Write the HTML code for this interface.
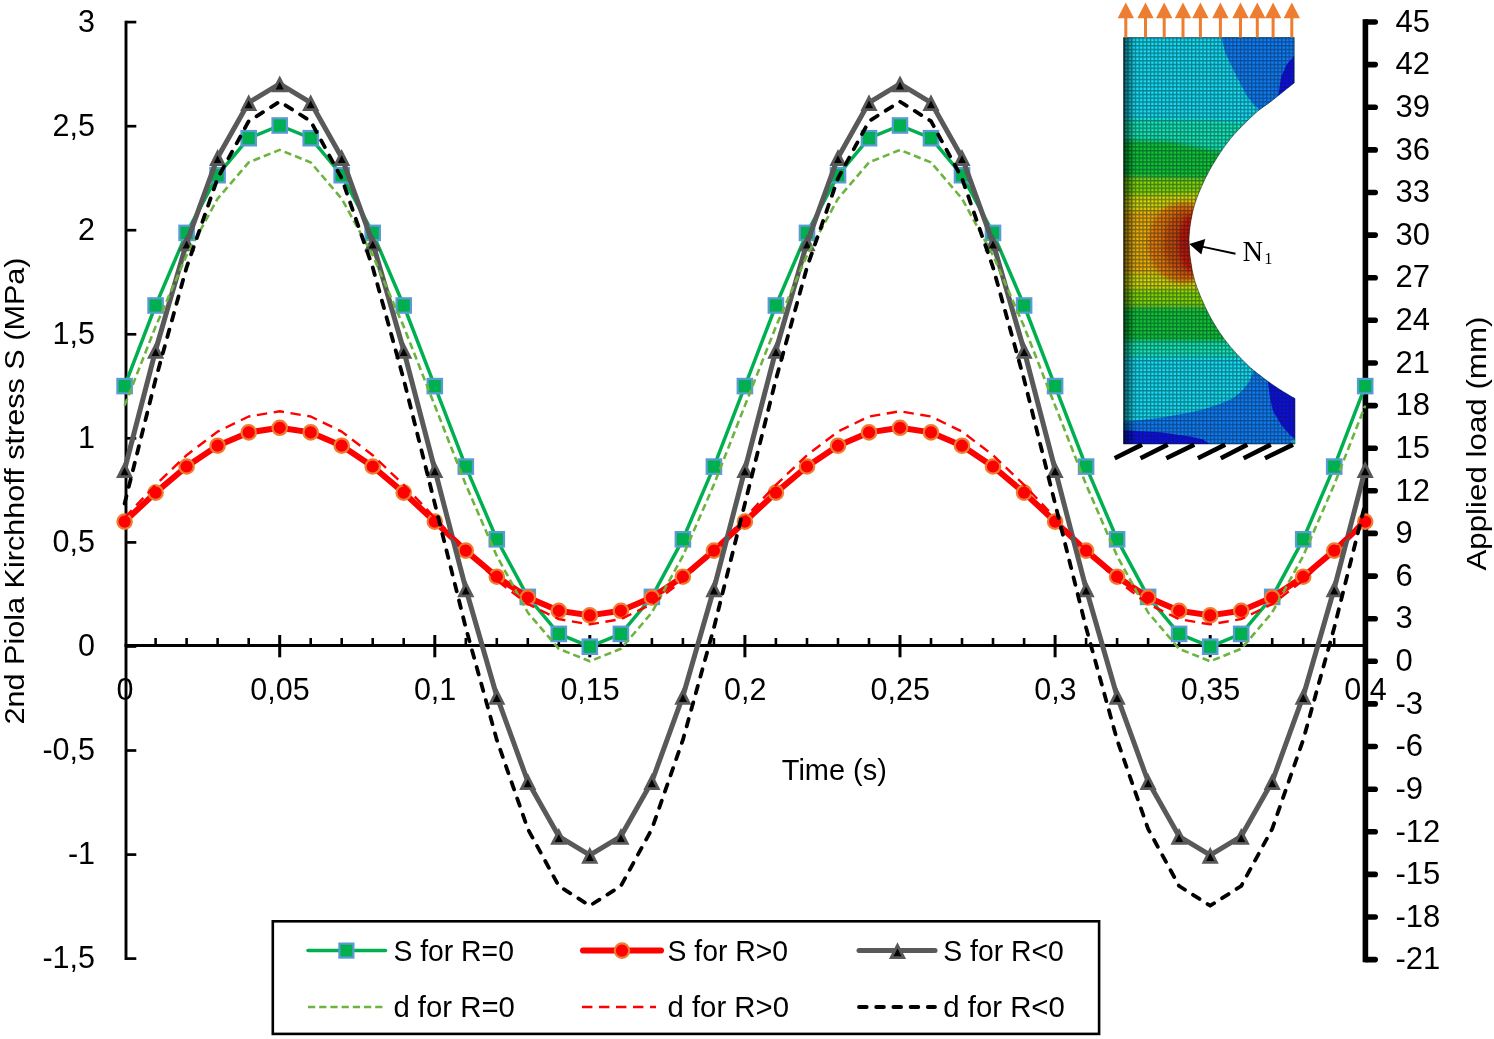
<!DOCTYPE html>
<html lang="en"><head><meta charset="utf-8"><title>Stress and applied load versus time</title>
<style>html,body{margin:0;padding:0;background:#fff}svg{display:block}text{font-family:"Liberation Sans",sans-serif;fill:#000}.ser{font-family:"Liberation Serif",serif}</style></head><body>
<svg width="1494" height="1039" viewBox="0 0 1494 1039">
<rect width="1494" height="1039" fill="#fff"/>
<defs>
<clipPath id="spec"><path d="M1123.6 37.5L1294.2 37.5L1294.2 83.0C1292.5 84.3 1287.9 87.9 1284.0 91.0C1280.1 94.1 1275.0 98.3 1270.6 101.7C1266.1 105.1 1261.8 107.7 1257.3 111.5C1252.8 115.3 1248.4 119.8 1243.9 124.3C1239.4 128.8 1235.0 133.2 1230.5 138.7C1226.0 144.2 1221.1 151.2 1217.1 157.5C1213.1 163.8 1209.8 169.5 1206.4 176.2C1203.1 182.9 1199.5 190.9 1197.0 197.6C1194.5 204.3 1193.0 210.2 1191.7 216.4C1190.4 222.6 1189.6 229.7 1189.2 235.0C1188.8 240.3 1189.2 244.2 1189.4 248.0C1189.6 251.8 1189.7 253.7 1190.3 258.0C1190.9 262.4 1191.9 269.2 1193.0 274.1C1194.1 279.0 1195.2 282.6 1197.0 287.5C1198.8 292.4 1201.2 298.1 1203.7 303.5C1206.2 308.9 1208.4 313.8 1211.7 319.6C1215.0 325.4 1219.5 332.6 1223.8 338.4C1228.0 344.2 1232.7 349.5 1237.2 354.4C1241.7 359.3 1246.1 363.8 1250.6 367.8C1255.1 371.8 1259.3 375.0 1264.0 378.5C1268.7 382.0 1273.8 385.6 1279.0 389.0C1284.2 392.4 1292.3 397.0 1295.0 398.6L1295 444.0L1123.6 444.0Z"/></clipPath>
<radialGradient id="hot" gradientUnits="userSpaceOnUse" cx="1192" cy="243" r="46">
<stop offset="0" stop-color="#fa1400"/><stop offset="0.3" stop-color="#f82800"/><stop offset="0.45" stop-color="#f46400"/><stop offset="0.78" stop-color="#f08400"/><stop offset="1" stop-color="#f5af00" stop-opacity="0"/></radialGradient>
<linearGradient id="ledge" gradientUnits="userSpaceOnUse" x1="1123" y1="0" x2="1136" y2="0"><stop offset="0" stop-color="#000" stop-opacity="0.85"/><stop offset="0.2" stop-color="#000" stop-opacity="0.45"/><stop offset="0.6" stop-color="#000" stop-opacity="0.22"/><stop offset="1" stop-color="#000" stop-opacity="0"/></linearGradient>
<pattern id="mesh" x="1123.6" y="37.5" width="3.75" height="3.75" patternUnits="userSpaceOnUse"><path d="M0 0.65H3.75M0.65 0V3.75" stroke="#001828" stroke-width="1.3" stroke-opacity="0.5" fill="none"/></pattern>
<filter id="soft" x="-5%" y="-5%" width="110%" height="110%"><feGaussianBlur stdDeviation="0.7"/></filter>
<filter id="bblur" x="-10%" y="-10%" width="120%" height="120%"><feGaussianBlur stdDeviation="2.2"/></filter>
<radialGradient id="dk"><stop offset="0" stop-color="#300" stop-opacity="0.28"/><stop offset="0.6" stop-color="#300" stop-opacity="0.16"/><stop offset="1" stop-color="#300" stop-opacity="0"/></radialGradient>
</defs>
<g filter="url(#soft)"><g clip-path="url(#spec)">
<g filter="url(#bblur)">
<rect x="1090" y="0" width="240" height="480" fill="#12e2f6"/>
<path d="M1090.0 119.0 L1200.0 119.5 L1330.0 128.0 L1330 480L1090 480Z" fill="#14ecb4"/>
<path d="M1090.0 138.0 L1170.0 141.0 L1219.0 150.6 L1330.0 165.0 L1330 480L1090 480Z" fill="#0acc32"/>
<path d="M1090.0 176.6 L1202.0 179.5 L1330.0 183.0 L1330 480L1090 480Z" fill="#86dc00"/>
<path d="M1090.0 197.0 L1196.0 194.0 L1330.0 189.0 L1330 480L1090 480Z" fill="#dcdc00"/>
<path d="M1090.0 213.5 L1160.0 209.0 L1180.0 203.0 L1330.0 190.0 L1330 480L1090 480Z" fill="#f8b200"/>
<path d="M1090.0 273.0 L1330.0 274.0 L1330 480L1090 480Z" fill="#dcdc00"/>
<path d="M1090.0 289.0 L1330.0 290.0 L1330 480L1090 480Z" fill="#86dc00"/>
<path d="M1090.0 306.0 L1330.0 307.6 L1330 480L1090 480Z" fill="#0acc32"/>
<path d="M1090.0 341.0 L1330.0 342.4 L1330 480L1090 480Z" fill="#14ecb4"/>
<path d="M1090.0 357.0 L1330.0 357.0 L1330 480L1090 480Z" fill="#12e2f6"/>
</g>
<g filter="url(#soft)">
<path d="M1220 30L1225 52L1231.5 66L1239 81L1247 96L1255 106L1262 112L1300 112L1300 30Z" fill="#0a80fc"/>
<path d="M1296 54L1287 64L1281 77L1278.5 95L1300 95L1300 54Z" fill="#0a0af4"/>
<path d="M1118 422.5L1159 418L1185 413.5L1203 409.5L1220 404L1232.5 398.5L1242 391L1249 382L1254 370L1300 370L1300 450L1118 450Z" fill="#0a80fc"/>
<path d="M1118 430L1160 432.3L1190 436.5L1203 439.5L1211 445L1118 445Z" fill="#0a0af4"/>
<path d="M1268 382L1270 398L1273 411L1281 424.5L1290 435L1296.5 440L1300 440L1300 382Z" fill="#0a0af4"/>
<circle cx="1294.5" cy="442.8" r="3.2" fill="#28e6f0"/>
</g>
<g filter="url(#bblur)"><ellipse cx="1184" cy="243" rx="36" ry="40" fill="#f27c00"/><ellipse cx="1188" cy="243" rx="24" ry="34" fill="#f45a00"/><ellipse cx="1191" cy="243" rx="13" ry="29" fill="#fa1400"/></g>
<ellipse cx="1186" cy="243" rx="30" ry="40" fill="url(#dk)"/>
<rect x="1120" y="34" width="180" height="414" fill="url(#mesh)"/>
<rect x="1123" y="34" width="14" height="414" fill="url(#ledge)"/>
</g>
<path d="M1123.6 37.5L1294.2 37.5L1294.2 83.0C1292.5 84.3 1287.9 87.9 1284.0 91.0C1280.1 94.1 1275.0 98.3 1270.6 101.7C1266.1 105.1 1261.8 107.7 1257.3 111.5C1252.8 115.3 1248.4 119.8 1243.9 124.3C1239.4 128.8 1235.0 133.2 1230.5 138.7C1226.0 144.2 1221.1 151.2 1217.1 157.5C1213.1 163.8 1209.8 169.5 1206.4 176.2C1203.1 182.9 1199.5 190.9 1197.0 197.6C1194.5 204.3 1193.0 210.2 1191.7 216.4C1190.4 222.6 1189.6 229.7 1189.2 235.0C1188.8 240.3 1189.2 244.2 1189.4 248.0C1189.6 251.8 1189.7 253.7 1190.3 258.0C1190.9 262.4 1191.9 269.2 1193.0 274.1C1194.1 279.0 1195.2 282.6 1197.0 287.5C1198.8 292.4 1201.2 298.1 1203.7 303.5C1206.2 308.9 1208.4 313.8 1211.7 319.6C1215.0 325.4 1219.5 332.6 1223.8 338.4C1228.0 344.2 1232.7 349.5 1237.2 354.4C1241.7 359.3 1246.1 363.8 1250.6 367.8C1255.1 371.8 1259.3 375.0 1264.0 378.5C1268.7 382.0 1273.8 385.6 1279.0 389.0C1284.2 392.4 1292.3 397.0 1295.0 398.6L1295 444.0L1123.6 444.0Z" fill="none" stroke="#101820" stroke-opacity="0.5" stroke-width="1"/>
</g>
<g fill="#ed7d31" stroke="none">
<path d="M1125.8 2.6L1134.0 18.2L1127.3 18.2L1127.3 37.6L1124.3 37.6L1124.3 18.2L1117.6 18.2Z"/>
<path d="M1145.5 2.6L1153.7 18.2L1147.0 18.2L1147.0 37.6L1144.0 37.6L1144.0 18.2L1137.3 18.2Z"/>
<path d="M1164.2 2.6L1172.4 18.2L1165.7 18.2L1165.7 37.6L1162.7 37.6L1162.7 18.2L1156.0 18.2Z"/>
<path d="M1183.0 2.6L1191.2 18.2L1184.5 18.2L1184.5 37.6L1181.5 37.6L1181.5 18.2L1174.8 18.2Z"/>
<path d="M1200.4 2.6L1208.6 18.2L1201.9 18.2L1201.9 37.6L1198.9 37.6L1198.9 18.2L1192.2 18.2Z"/>
<path d="M1220.4 2.6L1228.6 18.2L1221.9 18.2L1221.9 37.6L1218.9 37.6L1218.9 18.2L1212.2 18.2Z"/>
<path d="M1240.5 2.6L1248.7 18.2L1242.0 18.2L1242.0 37.6L1239.0 37.6L1239.0 18.2L1232.3 18.2Z"/>
<path d="M1257.3 2.6L1265.5 18.2L1258.8 18.2L1258.8 37.6L1255.8 37.6L1255.8 18.2L1249.1 18.2Z"/>
<path d="M1273.1 2.6L1281.3 18.2L1274.6 18.2L1274.6 37.6L1271.6 37.6L1271.6 18.2L1264.9 18.2Z"/>
<path d="M1291.8 2.6L1300.0 18.2L1293.3 18.2L1293.3 37.6L1290.3 37.6L1290.3 18.2L1283.6 18.2Z"/>
</g>
<g stroke="#000" stroke-width="4.6" fill="none">
<line x1="1114.7" y1="458.2" x2="1142.0" y2="444.6"/>
<line x1="1140.5" y1="458.2" x2="1167.7" y2="444.6"/>
<line x1="1166.3" y1="458.2" x2="1194.3" y2="444.6"/>
<line x1="1197.9" y1="458.2" x2="1225.2" y2="444.6"/>
<line x1="1220.8" y1="458.2" x2="1247.3" y2="444.6"/>
<line x1="1243.6" y1="458.2" x2="1270.8" y2="444.6"/>
<line x1="1265.0" y1="458.2" x2="1293.0" y2="444.6"/>
</g>
<line x1="1202" y1="246.6" x2="1235.5" y2="253.8" stroke="#000" stroke-width="1.9"/>
<path d="M1189.3 244.1L1205.3 238.9L1201.3 254.6Z" fill="#000"/>
<text class="ser" x="1242.6" y="261.4" font-size="28.5">N</text>
<text class="ser" x="1264.3" y="263.8" font-size="16.5">1</text>
<g stroke="#000" fill="none">
<line x1="126" y1="20.7" x2="126" y2="960" stroke-width="2.9"/>
<line x1="124.5" y1="645.6" x2="1366" y2="645.6" stroke-width="3"/>
<line x1="126" y1="22.1" x2="136.3" y2="22.1" stroke-width="2.7"/>
<line x1="126" y1="126.2" x2="136.3" y2="126.2" stroke-width="2.7"/>
<line x1="126" y1="230.2" x2="136.3" y2="230.2" stroke-width="2.7"/>
<line x1="126" y1="334.3" x2="136.3" y2="334.3" stroke-width="2.7"/>
<line x1="126" y1="438.3" x2="136.3" y2="438.3" stroke-width="2.7"/>
<line x1="126" y1="542.4" x2="136.3" y2="542.4" stroke-width="2.7"/>
<line x1="126" y1="646.5" x2="136.3" y2="646.5" stroke-width="2.7"/>
<line x1="126" y1="750.5" x2="136.3" y2="750.5" stroke-width="2.7"/>
<line x1="126" y1="854.6" x2="136.3" y2="854.6" stroke-width="2.7"/>
<line x1="126" y1="958.6" x2="136.3" y2="958.6" stroke-width="2.7"/>
<line x1="155.6" y1="638" x2="155.6" y2="646" stroke-width="2.6"/>
<line x1="186.6" y1="638" x2="186.6" y2="646" stroke-width="2.6"/>
<line x1="217.6" y1="638" x2="217.6" y2="646" stroke-width="2.6"/>
<line x1="248.7" y1="638" x2="248.7" y2="646" stroke-width="2.6"/>
<line x1="279.7" y1="635" x2="279.7" y2="657.3" stroke-width="3"/>
<line x1="310.7" y1="638" x2="310.7" y2="646" stroke-width="2.6"/>
<line x1="341.7" y1="638" x2="341.7" y2="646" stroke-width="2.6"/>
<line x1="372.7" y1="638" x2="372.7" y2="646" stroke-width="2.6"/>
<line x1="403.7" y1="638" x2="403.7" y2="646" stroke-width="2.6"/>
<line x1="434.8" y1="635" x2="434.8" y2="657.3" stroke-width="3"/>
<line x1="465.8" y1="638" x2="465.8" y2="646" stroke-width="2.6"/>
<line x1="496.8" y1="638" x2="496.8" y2="646" stroke-width="2.6"/>
<line x1="527.8" y1="638" x2="527.8" y2="646" stroke-width="2.6"/>
<line x1="558.8" y1="638" x2="558.8" y2="646" stroke-width="2.6"/>
<line x1="589.8" y1="635" x2="589.8" y2="657.3" stroke-width="3"/>
<line x1="620.9" y1="638" x2="620.9" y2="646" stroke-width="2.6"/>
<line x1="651.9" y1="638" x2="651.9" y2="646" stroke-width="2.6"/>
<line x1="682.9" y1="638" x2="682.9" y2="646" stroke-width="2.6"/>
<line x1="713.9" y1="638" x2="713.9" y2="646" stroke-width="2.6"/>
<line x1="744.9" y1="635" x2="744.9" y2="657.3" stroke-width="3"/>
<line x1="775.9" y1="638" x2="775.9" y2="646" stroke-width="2.6"/>
<line x1="807.0" y1="638" x2="807.0" y2="646" stroke-width="2.6"/>
<line x1="838.0" y1="638" x2="838.0" y2="646" stroke-width="2.6"/>
<line x1="869.0" y1="638" x2="869.0" y2="646" stroke-width="2.6"/>
<line x1="900.0" y1="635" x2="900.0" y2="657.3" stroke-width="3"/>
<line x1="931.0" y1="638" x2="931.0" y2="646" stroke-width="2.6"/>
<line x1="962.0" y1="638" x2="962.0" y2="646" stroke-width="2.6"/>
<line x1="993.0" y1="638" x2="993.0" y2="646" stroke-width="2.6"/>
<line x1="1024.1" y1="638" x2="1024.1" y2="646" stroke-width="2.6"/>
<line x1="1055.1" y1="635" x2="1055.1" y2="657.3" stroke-width="3"/>
<line x1="1086.1" y1="638" x2="1086.1" y2="646" stroke-width="2.6"/>
<line x1="1117.1" y1="638" x2="1117.1" y2="646" stroke-width="2.6"/>
<line x1="1148.1" y1="638" x2="1148.1" y2="646" stroke-width="2.6"/>
<line x1="1179.1" y1="638" x2="1179.1" y2="646" stroke-width="2.6"/>
<line x1="1210.2" y1="635" x2="1210.2" y2="657.3" stroke-width="3"/>
<line x1="1241.2" y1="638" x2="1241.2" y2="646" stroke-width="2.6"/>
<line x1="1272.2" y1="638" x2="1272.2" y2="646" stroke-width="2.6"/>
<line x1="1303.2" y1="638" x2="1303.2" y2="646" stroke-width="2.6"/>
<line x1="1334.2" y1="638" x2="1334.2" y2="646" stroke-width="2.6"/>
<line x1="1365.4" y1="19.3" x2="1365.4" y2="962.2" stroke-width="5.6"/>
<line x1="1366" y1="22.0" x2="1375.2" y2="22.0" stroke-width="5.6" stroke-linecap="round"/>
<line x1="1366" y1="64.6" x2="1375.2" y2="64.6" stroke-width="5.6" stroke-linecap="round"/>
<line x1="1366" y1="107.2" x2="1375.2" y2="107.2" stroke-width="5.6" stroke-linecap="round"/>
<line x1="1366" y1="149.9" x2="1375.2" y2="149.9" stroke-width="5.6" stroke-linecap="round"/>
<line x1="1366" y1="192.5" x2="1375.2" y2="192.5" stroke-width="5.6" stroke-linecap="round"/>
<line x1="1366" y1="235.1" x2="1375.2" y2="235.1" stroke-width="5.6" stroke-linecap="round"/>
<line x1="1366" y1="277.7" x2="1375.2" y2="277.7" stroke-width="5.6" stroke-linecap="round"/>
<line x1="1366" y1="320.3" x2="1375.2" y2="320.3" stroke-width="5.6" stroke-linecap="round"/>
<line x1="1366" y1="363.0" x2="1375.2" y2="363.0" stroke-width="5.6" stroke-linecap="round"/>
<line x1="1366" y1="405.6" x2="1375.2" y2="405.6" stroke-width="5.6" stroke-linecap="round"/>
<line x1="1366" y1="448.2" x2="1375.2" y2="448.2" stroke-width="5.6" stroke-linecap="round"/>
<line x1="1366" y1="490.8" x2="1375.2" y2="490.8" stroke-width="5.6" stroke-linecap="round"/>
<line x1="1366" y1="533.4" x2="1375.2" y2="533.4" stroke-width="5.6" stroke-linecap="round"/>
<line x1="1366" y1="576.1" x2="1375.2" y2="576.1" stroke-width="5.6" stroke-linecap="round"/>
<line x1="1366" y1="618.7" x2="1375.2" y2="618.7" stroke-width="5.6" stroke-linecap="round"/>
<line x1="1366" y1="661.3" x2="1375.2" y2="661.3" stroke-width="5.6" stroke-linecap="round"/>
<line x1="1366" y1="703.9" x2="1375.2" y2="703.9" stroke-width="5.6" stroke-linecap="round"/>
<line x1="1366" y1="746.5" x2="1375.2" y2="746.5" stroke-width="5.6" stroke-linecap="round"/>
<line x1="1366" y1="789.2" x2="1375.2" y2="789.2" stroke-width="5.6" stroke-linecap="round"/>
<line x1="1366" y1="831.8" x2="1375.2" y2="831.8" stroke-width="5.6" stroke-linecap="round"/>
<line x1="1366" y1="874.4" x2="1375.2" y2="874.4" stroke-width="5.6" stroke-linecap="round"/>
<line x1="1366" y1="917.0" x2="1375.2" y2="917.0" stroke-width="5.6" stroke-linecap="round"/>
<line x1="1366" y1="959.6" x2="1375.2" y2="959.6" stroke-width="5.6" stroke-linecap="round"/>
</g>
<g font-size="30.5">
<text x="95" y="31.7" text-anchor="end">3</text>
<text x="95" y="135.8" text-anchor="end">2,5</text>
<text x="95" y="239.8" text-anchor="end">2</text>
<text x="95" y="343.9" text-anchor="end">1,5</text>
<text x="95" y="447.9" text-anchor="end">1</text>
<text x="95" y="552.0" text-anchor="end">0,5</text>
<text x="95" y="656.1" text-anchor="end">0</text>
<text x="95" y="760.1" text-anchor="end">-0,5</text>
<text x="95" y="864.2" text-anchor="end">-1</text>
<text x="95" y="968.2" text-anchor="end">-1,5</text>
<text x="124.9" y="700.4" text-anchor="middle">0</text>
<text x="280.0" y="700.4" text-anchor="middle">0,05</text>
<text x="435.1" y="700.4" text-anchor="middle">0,1</text>
<text x="590.1" y="700.4" text-anchor="middle">0,15</text>
<text x="745.2" y="700.4" text-anchor="middle">0,2</text>
<text x="900.3" y="700.4" text-anchor="middle">0,25</text>
<text x="1055.4" y="700.4" text-anchor="middle">0,3</text>
<text x="1210.5" y="700.4" text-anchor="middle">0,35</text>
<text x="1365.5" y="700.4" text-anchor="middle">0,4</text>
<text x="1395.4" y="31.7" font-size="31">45</text>
<text x="1395.4" y="74.3" font-size="31">42</text>
<text x="1395.4" y="116.9" font-size="31">39</text>
<text x="1395.4" y="159.6" font-size="31">36</text>
<text x="1395.4" y="202.2" font-size="31">33</text>
<text x="1395.4" y="244.8" font-size="31">30</text>
<text x="1395.4" y="287.4" font-size="31">27</text>
<text x="1395.4" y="330.0" font-size="31">24</text>
<text x="1395.4" y="372.7" font-size="31">21</text>
<text x="1395.4" y="415.3" font-size="31">18</text>
<text x="1395.4" y="457.9" font-size="31">15</text>
<text x="1395.4" y="500.5" font-size="31">12</text>
<text x="1395.4" y="543.1" font-size="31">9</text>
<text x="1395.4" y="585.8" font-size="31">6</text>
<text x="1395.4" y="628.4" font-size="31">3</text>
<text x="1395.4" y="671.0" font-size="31">0</text>
<text x="1395.4" y="713.6" font-size="31">-3</text>
<text x="1395.4" y="756.2" font-size="31">-6</text>
<text x="1395.4" y="798.9" font-size="31">-9</text>
<text x="1395.4" y="841.5" font-size="31">-12</text>
<text x="1395.4" y="884.1" font-size="31">-15</text>
<text x="1395.4" y="926.7" font-size="31">-18</text>
<text x="1395.4" y="969.3" font-size="31">-21</text>
</g>
<text x="834.3" y="779.8" font-size="30" text-anchor="middle" textLength="105" lengthAdjust="spacingAndGlyphs">Time (s)</text>
<text transform="translate(24,491) rotate(-90)" font-size="28" text-anchor="middle" textLength="467" lengthAdjust="spacingAndGlyphs">2nd Piola Kirchhoff stress S (MPa)</text>
<text transform="translate(1486.2,443.6) rotate(-90)" font-size="28.5" text-anchor="middle" textLength="254" lengthAdjust="spacingAndGlyphs">Applied load (mm)</text>
<g fill="none" stroke-linejoin="round">
<polyline points="124.6,386.1 155.6,305.5 186.6,232.9 217.6,175.2 248.7,138.2 279.7,125.5 310.7,138.2 341.7,175.2 372.7,232.9 403.7,305.5 434.8,386.1 465.8,466.6 496.8,539.3 527.8,596.9 558.8,633.9 589.8,646.7 620.9,633.9 651.9,596.9 682.9,539.3 713.9,466.6 744.9,386.1 775.9,305.5 807.0,232.9 838.0,175.2 869.0,138.2 900.0,125.5 931.0,138.2 962.0,175.2 993.0,232.9 1024.1,305.5 1055.1,386.1 1086.1,466.6 1117.1,539.3 1148.1,596.9 1179.1,633.9 1210.2,646.7 1241.2,633.9 1272.2,596.9 1303.2,539.3 1334.2,466.6 1365.2,386.1" stroke="#00b050" stroke-width="3.5"/>
</g>
<g fill="#00b050" stroke="#5b9bd5" stroke-width="2.2">
<rect x="117.4" y="378.9" width="14.4" height="14.4"/>
<rect x="148.4" y="298.3" width="14.4" height="14.4"/>
<rect x="179.4" y="225.7" width="14.4" height="14.4"/>
<rect x="210.4" y="168.0" width="14.4" height="14.4"/>
<rect x="241.5" y="131.0" width="14.4" height="14.4"/>
<rect x="272.5" y="118.3" width="14.4" height="14.4"/>
<rect x="303.5" y="131.0" width="14.4" height="14.4"/>
<rect x="334.5" y="168.0" width="14.4" height="14.4"/>
<rect x="365.5" y="225.7" width="14.4" height="14.4"/>
<rect x="396.5" y="298.3" width="14.4" height="14.4"/>
<rect x="427.6" y="378.9" width="14.4" height="14.4"/>
<rect x="458.6" y="459.4" width="14.4" height="14.4"/>
<rect x="489.6" y="532.1" width="14.4" height="14.4"/>
<rect x="520.6" y="589.7" width="14.4" height="14.4"/>
<rect x="551.6" y="626.7" width="14.4" height="14.4"/>
<rect x="582.6" y="639.5" width="14.4" height="14.4"/>
<rect x="613.7" y="626.7" width="14.4" height="14.4"/>
<rect x="644.7" y="589.7" width="14.4" height="14.4"/>
<rect x="675.7" y="532.1" width="14.4" height="14.4"/>
<rect x="706.7" y="459.4" width="14.4" height="14.4"/>
<rect x="737.7" y="378.9" width="14.4" height="14.4"/>
<rect x="768.7" y="298.3" width="14.4" height="14.4"/>
<rect x="799.8" y="225.7" width="14.4" height="14.4"/>
<rect x="830.8" y="168.0" width="14.4" height="14.4"/>
<rect x="861.8" y="131.0" width="14.4" height="14.4"/>
<rect x="892.8" y="118.3" width="14.4" height="14.4"/>
<rect x="923.8" y="131.0" width="14.4" height="14.4"/>
<rect x="954.8" y="168.0" width="14.4" height="14.4"/>
<rect x="985.8" y="225.7" width="14.4" height="14.4"/>
<rect x="1016.9" y="298.3" width="14.4" height="14.4"/>
<rect x="1047.9" y="378.9" width="14.4" height="14.4"/>
<rect x="1078.9" y="459.4" width="14.4" height="14.4"/>
<rect x="1109.9" y="532.1" width="14.4" height="14.4"/>
<rect x="1140.9" y="589.7" width="14.4" height="14.4"/>
<rect x="1171.9" y="626.7" width="14.4" height="14.4"/>
<rect x="1203.0" y="639.5" width="14.4" height="14.4"/>
<rect x="1234.0" y="626.7" width="14.4" height="14.4"/>
<rect x="1265.0" y="589.7" width="14.4" height="14.4"/>
<rect x="1296.0" y="532.1" width="14.4" height="14.4"/>
<rect x="1327.0" y="459.4" width="14.4" height="14.4"/>
<rect x="1358.0" y="378.9" width="14.4" height="14.4"/>
</g>
<polyline points="124.6,521.6 155.6,492.6 186.6,466.5 217.6,445.7 248.7,432.4 279.7,427.8 310.7,432.4 341.7,445.7 372.7,466.5 403.7,492.6 434.8,521.6 465.8,550.6 496.8,576.7 527.8,597.5 558.8,610.8 589.8,615.4 620.9,610.8 651.9,597.5 682.9,576.7 713.9,550.6 744.9,521.6 775.9,492.6 807.0,466.5 838.0,445.7 869.0,432.4 900.0,427.8 931.0,432.4 962.0,445.7 993.0,466.5 1024.1,492.6 1055.1,521.6 1086.1,550.6 1117.1,576.7 1148.1,597.5 1179.1,610.8 1210.2,615.4 1241.2,610.8 1272.2,597.5 1303.2,576.7 1334.2,550.6 1365.2,521.6" fill="none" stroke="#ff0000" stroke-width="6" stroke-linejoin="round"/>
<g fill="#ff0000" stroke="#ed7d31" stroke-width="2.2">
<circle cx="124.6" cy="521.6" r="7.2"/>
<circle cx="155.6" cy="492.6" r="7.2"/>
<circle cx="186.6" cy="466.5" r="7.2"/>
<circle cx="217.6" cy="445.7" r="7.2"/>
<circle cx="248.7" cy="432.4" r="7.2"/>
<circle cx="279.7" cy="427.8" r="7.2"/>
<circle cx="310.7" cy="432.4" r="7.2"/>
<circle cx="341.7" cy="445.7" r="7.2"/>
<circle cx="372.7" cy="466.5" r="7.2"/>
<circle cx="403.7" cy="492.6" r="7.2"/>
<circle cx="434.8" cy="521.6" r="7.2"/>
<circle cx="465.8" cy="550.6" r="7.2"/>
<circle cx="496.8" cy="576.7" r="7.2"/>
<circle cx="527.8" cy="597.5" r="7.2"/>
<circle cx="558.8" cy="610.8" r="7.2"/>
<circle cx="589.8" cy="615.4" r="7.2"/>
<circle cx="620.9" cy="610.8" r="7.2"/>
<circle cx="651.9" cy="597.5" r="7.2"/>
<circle cx="682.9" cy="576.7" r="7.2"/>
<circle cx="713.9" cy="550.6" r="7.2"/>
<circle cx="744.9" cy="521.6" r="7.2"/>
<circle cx="775.9" cy="492.6" r="7.2"/>
<circle cx="807.0" cy="466.5" r="7.2"/>
<circle cx="838.0" cy="445.7" r="7.2"/>
<circle cx="869.0" cy="432.4" r="7.2"/>
<circle cx="900.0" cy="427.8" r="7.2"/>
<circle cx="931.0" cy="432.4" r="7.2"/>
<circle cx="962.0" cy="445.7" r="7.2"/>
<circle cx="993.0" cy="466.5" r="7.2"/>
<circle cx="1024.1" cy="492.6" r="7.2"/>
<circle cx="1055.1" cy="521.6" r="7.2"/>
<circle cx="1086.1" cy="550.6" r="7.2"/>
<circle cx="1117.1" cy="576.7" r="7.2"/>
<circle cx="1148.1" cy="597.5" r="7.2"/>
<circle cx="1179.1" cy="610.8" r="7.2"/>
<circle cx="1210.2" cy="615.4" r="7.2"/>
<circle cx="1241.2" cy="610.8" r="7.2"/>
<circle cx="1272.2" cy="597.5" r="7.2"/>
<circle cx="1303.2" cy="576.7" r="7.2"/>
<circle cx="1334.2" cy="550.6" r="7.2"/>
<circle cx="1365.2" cy="521.6" r="7.2"/>
</g>
<polyline points="124.6,469.5 155.6,350.3 186.6,242.8 217.6,157.4 248.7,102.6 279.7,83.8 310.7,102.6 341.7,157.4 372.7,242.8 403.7,350.3 434.8,469.5 465.8,588.7 496.8,696.2 527.8,781.5 558.8,836.3 589.8,855.2 620.9,836.3 651.9,781.5 682.9,696.2 713.9,588.7 744.9,469.5 775.9,350.3 807.0,242.8 838.0,157.4 869.0,102.6 900.0,83.8 931.0,102.6 962.0,157.4 993.0,242.8 1024.1,350.3 1055.1,469.5 1086.1,588.7 1117.1,696.2 1148.1,781.5 1179.1,836.3 1210.2,855.2 1241.2,836.3 1272.2,781.5 1303.2,696.2 1334.2,588.7 1365.2,469.5" fill="none" stroke="#595959" stroke-width="5" stroke-linejoin="round"/>
<g fill="#050505" stroke="#595959" stroke-width="2.8" stroke-linejoin="miter">
<path d="M124.6 464.2L130.9 476.6L118.3 476.6Z"/>
<path d="M155.6 345.0L161.9 357.4L149.3 357.4Z"/>
<path d="M186.6 237.5L192.9 249.9L180.3 249.9Z"/>
<path d="M217.6 152.1L223.9 164.5L211.3 164.5Z"/>
<path d="M248.7 97.3L255.0 109.7L242.4 109.7Z"/>
<path d="M279.7 78.5L286.0 90.8L273.4 90.8Z"/>
<path d="M310.7 97.3L317.0 109.7L304.4 109.7Z"/>
<path d="M341.7 152.1L348.0 164.5L335.4 164.5Z"/>
<path d="M372.7 237.5L379.0 249.9L366.4 249.9Z"/>
<path d="M403.7 345.0L410.0 357.4L397.4 357.4Z"/>
<path d="M434.8 464.2L441.1 476.6L428.5 476.6Z"/>
<path d="M465.8 583.4L472.1 595.8L459.5 595.8Z"/>
<path d="M496.8 690.9L503.1 703.3L490.5 703.3Z"/>
<path d="M527.8 776.2L534.1 788.6L521.5 788.6Z"/>
<path d="M558.8 831.0L565.1 843.4L552.5 843.4Z"/>
<path d="M589.8 849.9L596.1 862.3L583.5 862.3Z"/>
<path d="M620.9 831.0L627.2 843.4L614.6 843.4Z"/>
<path d="M651.9 776.2L658.2 788.6L645.6 788.6Z"/>
<path d="M682.9 690.9L689.2 703.3L676.6 703.3Z"/>
<path d="M713.9 583.4L720.2 595.8L707.6 595.8Z"/>
<path d="M744.9 464.2L751.2 476.6L738.6 476.6Z"/>
<path d="M775.9 345.0L782.2 357.4L769.6 357.4Z"/>
<path d="M807.0 237.5L813.3 249.9L800.7 249.9Z"/>
<path d="M838.0 152.1L844.3 164.5L831.7 164.5Z"/>
<path d="M869.0 97.3L875.3 109.7L862.7 109.7Z"/>
<path d="M900.0 78.5L906.3 90.8L893.7 90.8Z"/>
<path d="M931.0 97.3L937.3 109.7L924.7 109.7Z"/>
<path d="M962.0 152.1L968.3 164.5L955.7 164.5Z"/>
<path d="M993.0 237.5L999.3 249.9L986.7 249.9Z"/>
<path d="M1024.1 345.0L1030.4 357.4L1017.8 357.4Z"/>
<path d="M1055.1 464.2L1061.4 476.6L1048.8 476.6Z"/>
<path d="M1086.1 583.4L1092.4 595.8L1079.8 595.8Z"/>
<path d="M1117.1 690.9L1123.4 703.3L1110.8 703.3Z"/>
<path d="M1148.1 776.2L1154.4 788.6L1141.8 788.6Z"/>
<path d="M1179.1 831.0L1185.4 843.4L1172.8 843.4Z"/>
<path d="M1210.2 849.9L1216.5 862.3L1203.9 862.3Z"/>
<path d="M1241.2 831.0L1247.5 843.4L1234.9 843.4Z"/>
<path d="M1272.2 776.2L1278.5 788.6L1265.9 788.6Z"/>
<path d="M1303.2 690.9L1309.5 703.3L1296.9 703.3Z"/>
<path d="M1334.2 583.4L1340.5 595.8L1327.9 595.8Z"/>
<path d="M1365.2 464.2L1371.5 476.6L1358.9 476.6Z"/>
</g>
<g fill="none" stroke-linejoin="round">
<polyline points="124.6,405.6 155.6,326.6 186.6,255.3 217.6,198.7 248.7,162.4 279.7,149.9 310.7,162.4 341.7,198.7 372.7,255.3 403.7,326.6 434.8,405.6 465.8,484.6 496.8,555.9 527.8,612.5 558.8,648.8 589.8,661.3 620.9,648.8 651.9,612.5 682.9,555.9 713.9,484.6 744.9,405.6 775.9,326.6 807.0,255.3 838.0,198.7 869.0,162.4 900.0,149.9 931.0,162.4 962.0,198.7 993.0,255.3 1024.1,326.6 1055.1,405.6 1086.1,484.6 1117.1,555.9 1148.1,612.5 1179.1,648.8 1210.2,661.3 1241.2,648.8 1272.2,612.5 1303.2,555.9 1334.2,484.6 1365.2,405.6" stroke="#6db33f" stroke-width="2.6" stroke-dasharray="7.2 4"/>
<polyline points="124.6,517.8 155.6,484.9 186.6,455.2 217.6,431.6 248.7,416.5 279.7,411.3 310.7,416.5 341.7,431.6 372.7,455.2 403.7,484.9 434.8,517.8 465.8,550.7 496.8,580.4 527.8,604.0 558.8,619.1 589.8,624.4 620.9,619.1 651.9,604.0 682.9,580.4 713.9,550.7 744.9,517.8 775.9,484.9 807.0,455.2 838.0,431.6 869.0,416.5 900.0,411.3 931.0,416.5 962.0,431.6 993.0,455.2 1024.1,484.9 1055.1,517.8 1086.1,550.7 1117.1,580.4 1148.1,604.0 1179.1,619.1 1210.2,624.4 1241.2,619.1 1272.2,604.0 1303.2,580.4 1334.2,550.7 1365.2,517.8" stroke="#ff0000" stroke-width="2.4" stroke-dasharray="10.4 6.6"/>
<polyline points="124.6,503.6 155.6,379.4 186.6,267.3 217.6,178.3 248.7,121.2 279.7,101.6 310.7,121.2 341.7,178.3 372.7,267.3 403.7,379.4 434.8,503.6 465.8,627.8 496.8,739.9 527.8,828.9 558.8,886.0 589.8,905.7 620.9,886.0 651.9,828.9 682.9,739.9 713.9,627.8 744.9,503.6 775.9,379.4 807.0,267.3 838.0,178.3 869.0,121.2 900.0,101.6 931.0,121.2 962.0,178.3 993.0,267.3 1024.1,379.4 1055.1,503.6 1086.1,627.8 1117.1,739.9 1148.1,828.9 1179.1,886.0 1210.2,905.7 1241.2,886.0 1272.2,828.9 1303.2,739.9 1334.2,627.8 1365.2,503.6" fill="none" stroke="#000" stroke-width="3.8" stroke-dasharray="7.7 9.5" stroke-linecap="round" stroke-linejoin="round"/>
</g>
<rect x="272.8" y="921.3" width="826.3" height="112.6" fill="#fff" stroke="#000" stroke-width="2.6"/>
<line x1="308" y1="950.6" x2="385.5" y2="950.6" stroke="#00b050" stroke-width="3.5" stroke-linecap="round"/>
<rect x="339.4" y="943.6" width="14" height="14" fill="#00b050" stroke="#5b9bd5" stroke-width="2.2"/>
<line x1="583" y1="950.6" x2="661" y2="950.6" stroke="#ff0000" stroke-width="6" stroke-linecap="round"/>
<circle cx="622" cy="950.6" r="7.2" fill="#ff0000" stroke="#ed7d31" stroke-width="2.2"/>
<line x1="859" y1="950.6" x2="935" y2="950.6" stroke="#595959" stroke-width="5" stroke-linecap="round"/>
<path d="M897.5 945.3L903.8 957.7L891.2 957.7Z" fill="#050505" stroke="#595959" stroke-width="2.8"/>
<line x1="308" y1="1007" x2="385.5" y2="1007" stroke="#6db33f" stroke-width="2.6" stroke-dasharray="7.2 4"/>
<line x1="582" y1="1007" x2="656" y2="1007" stroke="#ff0000" stroke-width="2.4" stroke-dasharray="10.4 6.6"/>
<line x1="859" y1="1007" x2="935" y2="1007" stroke="#000" stroke-width="3.8" stroke-dasharray="7.7 9.5" stroke-linecap="round"/>
<g font-size="30">
<text x="393.4" y="960.9" textLength="120.5" lengthAdjust="spacingAndGlyphs">S for R=0</text>
<text x="393.4" y="1017.3" textLength="121.5" lengthAdjust="spacingAndGlyphs">d for R=0</text>
<text x="667.5" y="960.9" textLength="120.5" lengthAdjust="spacingAndGlyphs">S for R&gt;0</text>
<text x="667.5" y="1017.3" textLength="121.5" lengthAdjust="spacingAndGlyphs">d for R&gt;0</text>
<text x="943.3" y="960.9" textLength="120.5" lengthAdjust="spacingAndGlyphs">S for R&lt;0</text>
<text x="943.3" y="1017.3" textLength="121.5" lengthAdjust="spacingAndGlyphs">d for R&lt;0</text>
</g>
</svg></body></html>
